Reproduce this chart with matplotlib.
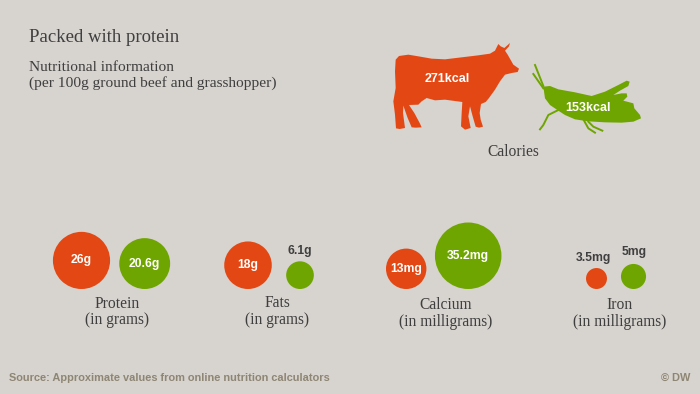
"""Packed with protein: beef vs grasshopper nutrition bubbles."""
import matplotlib

matplotlib.use("Agg")
import matplotlib.pyplot as plt
import numpy as np
from matplotlib.patches import Circle, Polygon

BG = "#d7d3ce"
RED = "#e34814"
GREEN = "#6fa500"
DARK = "#3f3f3f"
GREY = "#8e8674"

NUTRIENTS = ["Protein\n(in grams)", "Fats\n(in grams)", "Calcium\n(in milligrams)", "Iron\n(in milligrams)"]
BEEF = [26, 18, 13, 3.5]
HOPPER = [20.6, 6.1, 35.2, 5]
BEEF_LABELS = ["26g", "18g", "13mg", "3.5mg"]
HOPPER_LABELS = ["20.6g", "6.1g", "35.2mg", "5mg"]

# layout, in reference pixels
BEEF_X = [81.5, 248, 406.2, 596.5]
HOPPER_X = [144.7, 300, 468.2, 633.5]
NAME_X = [117, 277, 445.5, 619.5]
NAME_Y = [303, 302, 304, 304]
BASELINE = 289
AREA_SCALE = 31.4  # px^2 per unit
OUTSIDE_POS = {"6.1g": (300, 251), "3.5mg": (593, 258.5), "5mg": (634, 252.5)}

# icon outlines, traced at 3x from crops
COW = [(32, 65), (42, 54), (70, 50), (100, 55), (140, 62), (180, 64), (230, 58), (280, 52), (315, 47),
       (330, 38), (340, 18), (347, 25), (358, 30), (375, 15), (372, 25), (360, 38), (368, 50), (385, 80),
       (402, 92), (398, 102), (380, 105), (360, 110), (345, 130), (330, 155), (312, 180), (302, 192),
       (288, 198), (284, 225), (287, 245), (294, 266), (282, 269), (272, 266), (263, 235), (255, 205),
       (250, 235), (257, 270), (240, 275), (228, 265), (230, 225), (232, 192), (180, 185), (150, 187),
       (125, 180), (110, 190), (100, 200), (72, 201), (88, 225), (104, 255), (110, 268), (92, 269),
       (80, 268), (68, 240), (55, 203), (54, 225), (60, 270), (44, 273), (33, 271), (30, 230), (25, 190),
       (32, 150), (30, 100)]
HOPPER_BODY = [(55, 80), (75, 78), (100, 88), (150, 97), (200, 108), (240, 95), (280, 75), (305, 62),
               (314, 65), (310, 78), (285, 92), (265, 105), (290, 100), (305, 100), (307, 110), (295, 122),
               (325, 130), (328, 145), (345, 165), (348, 175), (325, 185), (290, 188), (240, 187),
               (190, 184), (150, 178), (120, 165), (100, 152), (75, 135), (60, 115)]
HOPPER_LEGS = [[(100, 150), (70, 165), (55, 195), (45, 208)],
               [(175, 178), (190, 205), (210, 218)],
               [(190, 185), (205, 200), (232, 212)],
               [(55, 85), (25, 42)],
               [(55, 78), (30, 15)]]


def from_crop(points, left, top):
    return [(left + x / 3, top + y / 3) for x, y in points]


plt.rcParams["font.family"] = ["Liberation Serif", "DejaVu Serif"]

fig = plt.figure(figsize=(7, 3.94), dpi=100, facecolor=BG)
ax = fig.add_axes([0, 0, 1, 1])
ax.set_xlim(0, 700)
ax.set_ylim(394, 0)
ax.set_axis_off()

ax.text(29, 37, "Packed with protein", fontsize=13.5, color=DARK, va="center")
ax.text(29, 67.5, "Nutritional information", fontsize=11.1, color=DARK, va="center")
ax.text(29, 83.5, "(per 100g ground beef and grasshopper)", fontsize=11.1, color=DARK, va="center")

sans = dict(family="Liberation Sans", fontweight="bold", ha="center", va="center")


def bubble(x, value, label, color):
    r = np.sqrt(AREA_SCALE * value)
    y = BASELINE - r
    ax.add_patch(Circle((x, y), r, color=color, lw=0))
    if label in OUTSIDE_POS:
        ax.text(*OUTSIDE_POS[label], label, color=DARK, fontsize=8.7, **sans)
    else:
        ax.text(x, y, label, color="white", fontsize=8.7, **sans)


for i, name in enumerate(NUTRIENTS):
    bubble(BEEF_X[i], BEEF[i], BEEF_LABELS[i], RED)
    bubble(HOPPER_X[i], HOPPER[i], HOPPER_LABELS[i], GREEN)
    first, second = name.split("\n")
    ax.text(NAME_X[i], NAME_Y[i] + 1, first, fontsize=11.2, color=DARK, ha="center", va="center")
    ax.text(NAME_X[i], NAME_Y[i] + 17.5, second, fontsize=11.2, color=DARK, ha="center", va="center")

ax.add_patch(Polygon(from_crop(COW, 385, 38), closed=True, color=RED, lw=0))
ax.add_patch(Polygon(from_crop(HOPPER_BODY, 525, 60), closed=True, color=GREEN, lw=0))
for leg in HOPPER_LEGS:
    xs, ys = zip(*from_crop(leg, 525, 60))
    ax.plot(xs, ys, color=GREEN, lw=1.4)
ax.text(447.5, 78.5, "271kcal", color="white", fontsize=9, **sans)
ax.text(588, 107.5, "153kcal", color="white", fontsize=9, **sans)
ax.text(513, 152, "Calories", fontsize=11.2, color=DARK, ha="center", va="center")

ax.text(9, 378, "Source: Approximate values from online nutrition calculators", color=GREY, fontsize=7.9,
        family="Liberation Sans", fontweight="bold", va="center")
ax.text(690, 378, "© DW", color=GREY, fontsize=7.9, family="Liberation Sans", fontweight="bold",
        ha="right", va="center")

fig.savefig("out.png", dpi=100, facecolor=BG)
